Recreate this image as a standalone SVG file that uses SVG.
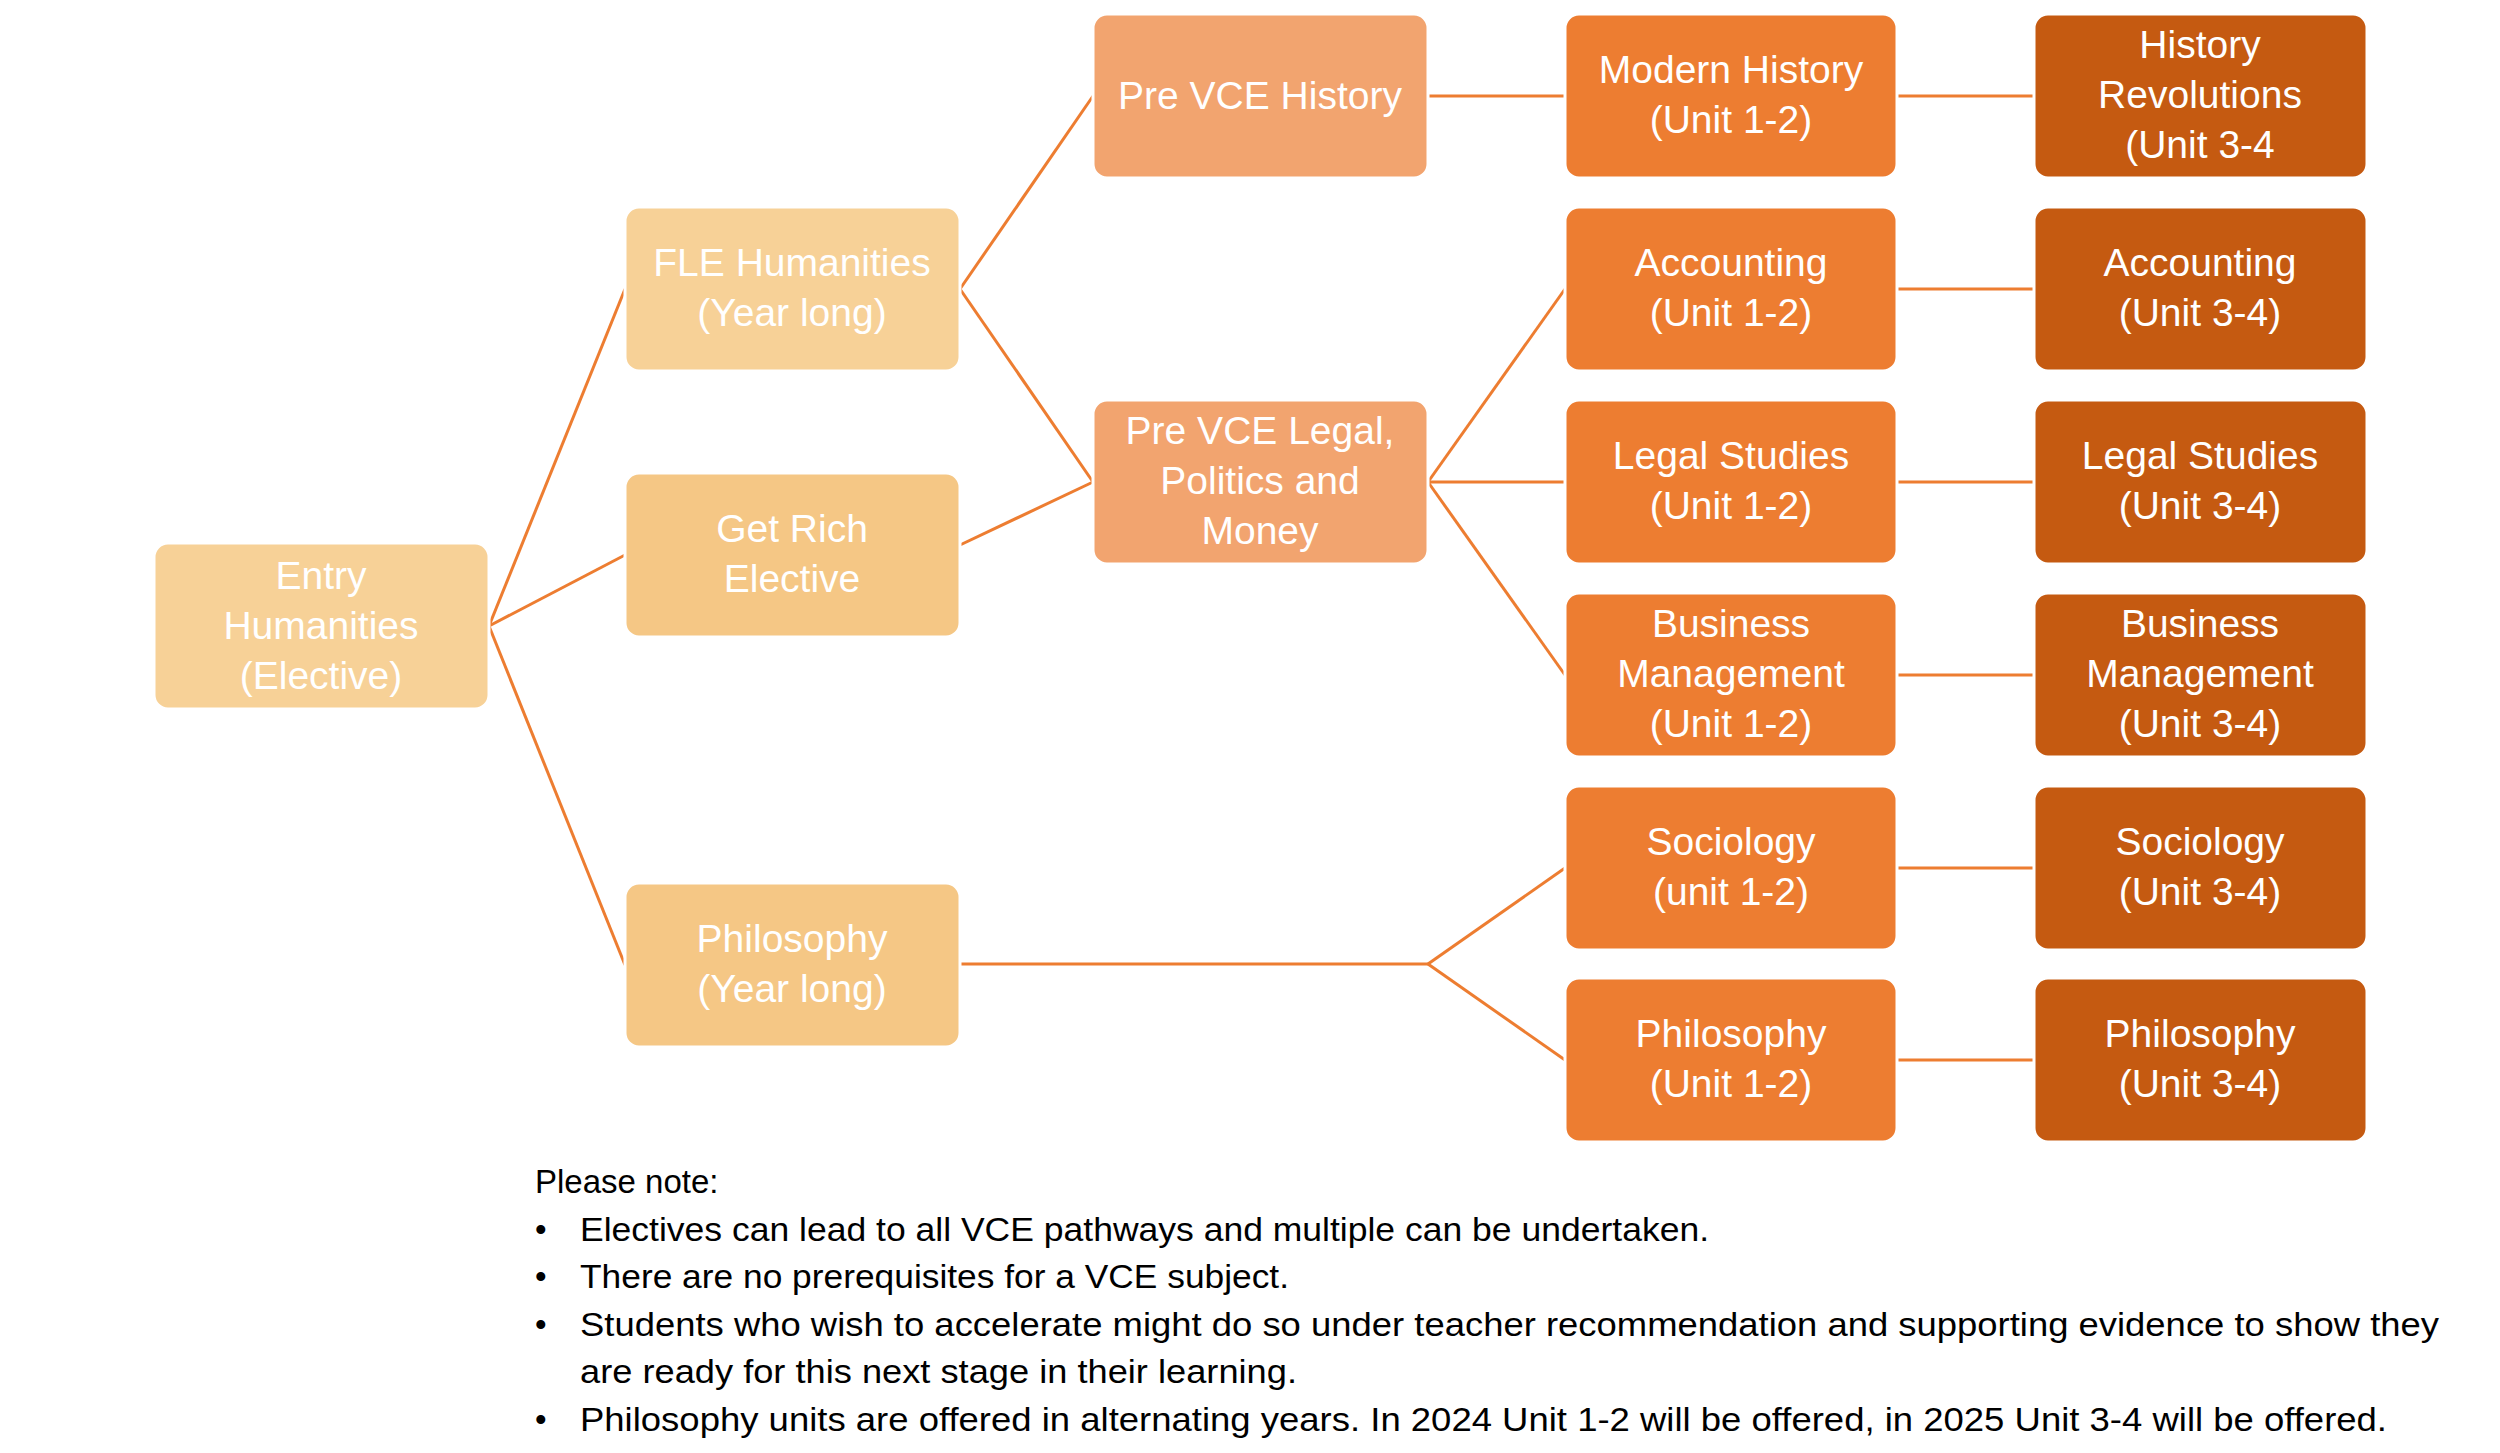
<svg xmlns="http://www.w3.org/2000/svg" width="2500" height="1453" viewBox="0 0 2500 1453">
<style>
.n{stroke:#fff;stroke-width:3}
.t{font-family:"Liberation Sans",Arial,sans-serif;font-size:39px;fill:#fff;text-anchor:middle}
.c line{stroke:#ED7D31;stroke-width:3}
.note{font-family:"Liberation Sans",Arial,sans-serif;font-size:33px;fill:#000}
</style>
<rect width="2500" height="1453" fill="#fff"/>
<g class="c" id="connectors">
<line x1="489" y1="626" x2="625" y2="289"/>
<line x1="489" y1="626" x2="625" y2="555"/>
<line x1="489" y1="626" x2="625" y2="965"/>
<line x1="960" y1="289" x2="1093" y2="96"/>
<line x1="960" y1="289" x2="1093" y2="482"/>
<line x1="960" y1="545" x2="1093" y2="482"/>
<line x1="1428" y1="96" x2="1565" y2="96"/>
<line x1="1428" y1="482" x2="1565" y2="289"/>
<line x1="1428" y1="482" x2="1565" y2="482"/>
<line x1="1428" y1="482" x2="1565" y2="675"/>
<line x1="960" y1="964" x2="1428" y2="964"/>
<line x1="1428" y1="964" x2="1565" y2="868"/>
<line x1="1428" y1="964" x2="1565" y2="1060"/>
<line x1="1897" y1="96" x2="2034" y2="96"/>
<line x1="1897" y1="289" x2="2034" y2="289"/>
<line x1="1897" y1="482" x2="2034" y2="482"/>
<line x1="1897" y1="675" x2="2034" y2="675"/>
<line x1="1897" y1="868" x2="2034" y2="868"/>
<line x1="1897" y1="1060" x2="2034" y2="1060"/>
</g>
<g id="entry"><rect class="n" x="154" y="543" width="335" height="166" rx="14" fill="#F7D197"/><text class="t" x="321" y="589">Entry</text><text class="t" x="321" y="639">Humanities</text><text class="t" x="321" y="689">(Elective)</text></g>
<g id="fle"><rect class="n" x="625" y="207" width="335" height="164" rx="14" fill="#F7D197"/><text class="t" x="792" y="276">FLE Humanities</text><text class="t" x="792" y="326">(Year long)</text></g>
<g id="getrich"><rect class="n" x="625" y="473" width="335" height="164" rx="14" fill="#F5C785"/><text class="t" x="792" y="542">Get Rich</text><text class="t" x="792" y="592">Elective</text></g>
<g id="philyear"><rect class="n" x="625" y="883" width="335" height="164" rx="14" fill="#F5C785"/><text class="t" x="792" y="952">Philosophy</text><text class="t" x="792" y="1002">(Year long)</text></g>
<g id="prehist"><rect class="n" x="1093" y="14" width="335" height="164" rx="14" fill="#F2A46F"/><text class="t" x="1260" y="109">Pre VCE History</text></g>
<g id="prelegal"><rect class="n" x="1093" y="400" width="335" height="164" rx="14" fill="#F2A46F"/><text class="t" x="1260" y="444">Pre VCE Legal,</text><text class="t" x="1260" y="494">Politics and</text><text class="t" x="1260" y="544">Money</text></g>
<g id="modhist"><rect class="n" x="1565" y="14" width="332" height="164" rx="14" fill="#ED7D31"/><text class="t" x="1731" y="83">Modern History</text><text class="t" x="1731" y="133">(Unit 1-2)</text></g>
<g id="acc12"><rect class="n" x="1565" y="207" width="332" height="164" rx="14" fill="#ED7D31"/><text class="t" x="1731" y="276">Accounting</text><text class="t" x="1731" y="326">(Unit 1-2)</text></g>
<g id="legal12"><rect class="n" x="1565" y="400" width="332" height="164" rx="14" fill="#ED7D31"/><text class="t" x="1731" y="469">Legal Studies</text><text class="t" x="1731" y="519">(Unit 1-2)</text></g>
<g id="bus12"><rect class="n" x="1565" y="593" width="332" height="164" rx="14" fill="#ED7D31"/><text class="t" x="1731" y="637">Business</text><text class="t" x="1731" y="687">Management</text><text class="t" x="1731" y="737">(Unit 1-2)</text></g>
<g id="soc12"><rect class="n" x="1565" y="786" width="332" height="164" rx="14" fill="#ED7D31"/><text class="t" x="1731" y="855">Sociology</text><text class="t" x="1731" y="905">(unit 1-2)</text></g>
<g id="phil12"><rect class="n" x="1565" y="978" width="332" height="164" rx="14" fill="#ED7D31"/><text class="t" x="1731" y="1047">Philosophy</text><text class="t" x="1731" y="1097">(Unit 1-2)</text></g>
<g id="histrev"><rect class="n" x="2034" y="14" width="333" height="164" rx="14" fill="#C55A11"/><text class="t" x="2200" y="58">History</text><text class="t" x="2200" y="108">Revolutions</text><text class="t" x="2200" y="158">(Unit 3-4</text></g>
<g id="acc34"><rect class="n" x="2034" y="207" width="333" height="164" rx="14" fill="#C55A11"/><text class="t" x="2200" y="276">Accounting</text><text class="t" x="2200" y="326">(Unit 3-4)</text></g>
<g id="legal34"><rect class="n" x="2034" y="400" width="333" height="164" rx="14" fill="#C55A11"/><text class="t" x="2200" y="469">Legal Studies</text><text class="t" x="2200" y="519">(Unit 3-4)</text></g>
<g id="bus34"><rect class="n" x="2034" y="593" width="333" height="164" rx="14" fill="#C55A11"/><text class="t" x="2200" y="637">Business</text><text class="t" x="2200" y="687">Management</text><text class="t" x="2200" y="737">(Unit 3-4)</text></g>
<g id="soc34"><rect class="n" x="2034" y="786" width="333" height="164" rx="14" fill="#C55A11"/><text class="t" x="2200" y="855">Sociology</text><text class="t" x="2200" y="905">(Unit 3-4)</text></g>
<g id="phil34"><rect class="n" x="2034" y="978" width="333" height="164" rx="14" fill="#C55A11"/><text class="t" x="2200" y="1047">Philosophy</text><text class="t" x="2200" y="1097">(Unit 3-4)</text></g>
<g id="notes" class="note">
<text x="535" y="1193">Please note:</text>
<text x="535" y="1241">•</text><text x="580" y="1241" textLength="1129" lengthAdjust="spacingAndGlyphs">Electives can lead to all VCE pathways and multiple can be undertaken.</text>
<text x="535" y="1288">•</text><text x="580" y="1288" textLength="709" lengthAdjust="spacingAndGlyphs">There are no prerequisites for a VCE subject.</text>
<text x="535" y="1336">•</text><text x="580" y="1336" textLength="1859" lengthAdjust="spacingAndGlyphs">Students who wish to accelerate might do so under teacher recommendation and supporting evidence to show they</text>
<text x="580" y="1383" textLength="717" lengthAdjust="spacingAndGlyphs">are ready for this next stage in their learning.</text>
<text x="535" y="1431">•</text><text x="580" y="1431" textLength="1807" lengthAdjust="spacingAndGlyphs">Philosophy units are offered in alternating years. In 2024 Unit 1-2 will be offered, in 2025 Unit 3-4 will be offered.</text>
</g>
</svg>
